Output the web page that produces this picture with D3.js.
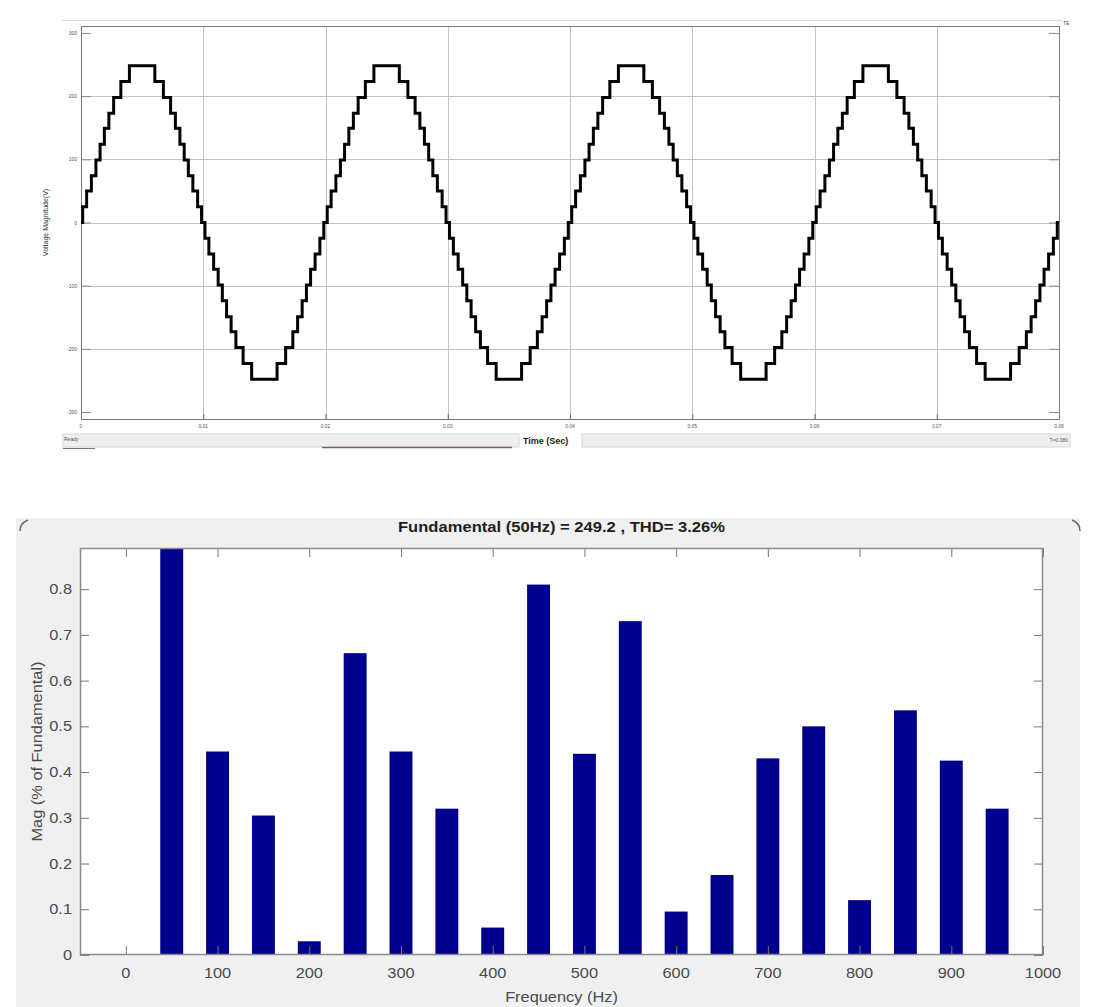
<!DOCTYPE html>
<head>
  <meta charset="utf-8">
  <title>Staircase voltage and FFT</title>
  <style>
  body { margin: 0; background: #fff; }
  svg { display: block; font-family: "Liberation Sans", Arial, sans-serif; }
  .tiny { font-size: 5px; fill: #555; }
  .grid line { stroke: #c4c4c4; stroke-width: 1; }
  .mtick { font-size: 14px; fill: #4a4a4a; }
  </style>
</head>

<svg id="chart" width="1093" height="1007"></svg>

<script src="https://cdn.jsdelivr.net/npm/d3@7"></script>

<script>
"use strict";

// --- top plot: staircase output voltage ---
var timeTicks = [0, 0.01, 0.02, 0.03, 0.04, 0.05, 0.06, 0.07, 0.08];
var voltTicks = [-300, -200, -100, 0, 100, 200, 300];
var voltGrid = [-200, -100, 0, 100, 200];
// switching instants (ms) of the rising edges in the first quarter cycle
var stepTimesMs = [0.14, 0.46, 0.85, 1.22, 1.56, 1.91, 2.28, 2.67, 3.26, 3.96];
// voltage level reached at each step (V)
var stepLevels = [25, 50, 74, 99, 124, 149, 173, 198, 223, 248];
var periodMs = 20, cycles = 4;

// --- bottom plot: harmonic spectrum ---
var harmonicFreqs = [50, 100, 150, 200, 250, 300, 350, 400, 450, 500,
                     550, 600, 650, 700, 750, 800, 850, 900, 950];
var harmonicMags = [100, 0.445, 0.305, 0.03, 0.66, 0.445, 0.32, 0.06, 0.81, 0.44,
                    0.73, 0.095, 0.175, 0.43, 0.50, 0.12, 0.535, 0.425, 0.32];
var freqTicks = [0, 100, 200, 300, 400, 500, 600, 700, 800, 900, 1000];
var magTicks = [0, 0.1, 0.2, 0.3, 0.4, 0.5, 0.6, 0.7, 0.8];

var svg = d3.select("#chart");
var stretch = 1.17; // the screenshot text is a little wider than Arial

/* ================= top plot ================= */
var box1 = {left: 81, right: 1059, top: 26, bottom: 419};

var x1 = d3.scaleLinear().domain([0, 0.08]).range([box1.left, box1.right]);
var y1 = d3.scaleLinear().domain([-311, 311]).range([box1.bottom, box1.top]);

// build one period from the read steps, then repeat it
var wave = [];
for (var c = 0; c < cycles; c++) {
  var off = c * periodMs;
  wave.push([off, 0]);
  stepTimesMs.forEach(function(t, i) { wave.push([off + t, stepLevels[i]]); });
  for (var i = stepTimesMs.length - 1; i >= 0; i--)
    wave.push([off + periodMs / 2 - stepTimesMs[i], i > 0 ? stepLevels[i - 1] : 0]);
  stepTimesMs.forEach(function(t, i) { wave.push([off + periodMs / 2 + t, -stepLevels[i]]); });
  for (var j = stepTimesMs.length - 1; j >= 0; j--)
    wave.push([off + periodMs - stepTimesMs[j], j > 0 ? -stepLevels[j - 1] : 0]);
}
wave.push([cycles * periodMs, 0]);

// outer frame line
svg.append("line")
    .attr("x1", 62).attr("x2", 1062).attr("y1", 20.5).attr("y2", 20.5)
    .attr("stroke", "#d6d6d6");

svg.append("text").attr("class", "tiny")
    .attr("x", 1063).attr("y", 25).attr("fill", "#333").text("TE");

// grid
var g1 = svg.append("g");
g1.append("g").attr("class", "grid")
  .selectAll("line").data(timeTicks.slice(1, -1)).enter().append("line")
    .attr("x1", function(d) { return Math.round(x1(d)) + 0.5; })
    .attr("x2", function(d) { return Math.round(x1(d)) + 0.5; })
    .attr("y1", box1.top).attr("y2", box1.bottom);
g1.append("g").attr("class", "grid")
  .selectAll("line").data(voltGrid).enter().append("line")
    .attr("y1", function(d) { return Math.round(y1(d)) + 0.5; })
    .attr("y2", function(d) { return Math.round(y1(d)) + 0.5; })
    .attr("x1", box1.left).attr("x2", box1.right);

// axes (ticks inside, tiny labels)
g1.append("g")
    .attr("transform", "translate(" + box1.left + ",0)")
    .call(d3.axisRight(y1).tickValues(voltTicks).tickSize(10).tickFormat(""))
    .call(function(g) { g.select(".domain").remove(); g.selectAll("line").attr("stroke", "#8a8a8a"); });
g1.append("g")
    .attr("transform", "translate(" + box1.right + ",0)")
    .call(d3.axisLeft(y1).tickValues(voltTicks).tickSize(10).tickFormat(""))
    .call(function(g) { g.select(".domain").remove(); g.selectAll("line").attr("stroke", "#8a8a8a"); });
g1.append("g")
    .attr("transform", "translate(0," + box1.bottom + ")")
    .call(d3.axisTop(x1).tickValues(timeTicks).tickSize(5).tickFormat(""))
    .call(function(g) { g.select(".domain").remove(); g.selectAll("line").attr("stroke", "#666"); });

g1.selectAll(".ylab").data(voltTicks).enter().append("text")
    .attr("class", "tiny").attr("text-anchor", "end")
    .attr("x", box1.left - 4).attr("y", function(d) { return y1(d) + 2; })
    .text(function(d) { return d; });
g1.selectAll(".xlab").data(timeTicks).enter().append("text")
    .attr("class", "tiny").attr("text-anchor", "middle")
    .attr("x", function(d) { return x1(d); }).attr("y", box1.bottom + 9)
    .text(function(d) { return d === 0 ? "0" : d3.format(".2f")(d); });

g1.append("rect")
    .attr("x", box1.left + 0.5).attr("y", box1.top + 0.5)
    .attr("width", box1.right - box1.left).attr("height", box1.bottom - box1.top)
    .attr("fill", "none").attr("stroke", "#7a7a7a");

g1.append("text")
    .attr("transform", "translate(48," + y1(0) + ") rotate(-90)")
    .attr("text-anchor", "middle").attr("font-size", 7).attr("fill", "#333")
    .text("Voltage Magnitude(V)");

// waveform
var line1 = d3.line()
    .x(function(d) { return x1(d[0] / 1000); })
    .y(function(d) { return y1(d[1]); })
    .curve(d3.curveStepAfter);
g1.append("path")
    .datum(wave)
    .attr("fill", "none").attr("stroke", "#000").attr("stroke-width", 3)
    .attr("stroke-linejoin", "miter")
    .attr("d", line1);

// status bar
var sb = svg.append("g");
sb.append("rect").attr("x", 63).attr("y", 434).attr("width", 456).attr("height", 13)
    .attr("fill", "#efefef").attr("stroke", "#d8d8d8");
sb.append("rect").attr("x", 582).attr("y", 434).attr("width", 488).attr("height", 13)
    .attr("fill", "#efefef").attr("stroke", "#d8d8d8");
sb.append("line").attr("x1", 63).attr("x2", 95).attr("y1", 448.5).attr("y2", 448.5)
    .attr("stroke", "#777");
sb.append("line").attr("x1", 322).attr("x2", 512).attr("y1", 447.5).attr("y2", 447.5)
    .attr("stroke", "#8a5a5a").attr("stroke-width", 1.5);
sb.append("text").attr("class", "tiny").attr("x", 64).attr("y", 441).attr("fill", "#444").text("Ready");
sb.append("text").attr("x", 523).attr("y", 444).attr("font-size", 9).attr("font-weight", "bold")
    .attr("fill", "#222").text("Time (Sec)");
sb.append("text").attr("class", "tiny").attr("x", 1068).attr("y", 442).attr("text-anchor", "end")
    .text("T=0.080");

/* ================= bottom plot ================= */
var box2 = {left: 80, right: 1043, top: 548, bottom: 955};

svg.append("rect")
    .attr("x", 16).attr("y", 518).attr("width", 1064).attr("height", 489)
    .attr("fill", "#f0f0f0");

// resize corner marks
[[20, 523, "M0,8 Q0,0 8,-3"], [1080, 523, "M0,8 Q0,0 -8,-3"]].forEach(function(m) {
  svg.append("path").attr("transform", "translate(" + m[0] + "," + m[1] + ")")
      .attr("d", m[2]).attr("fill", "none").attr("stroke", "#666").attr("stroke-width", 1.5);
});

var x2 = d3.scaleLinear().domain([-50, 1000]).range([box2.left, box2.right]);
var y2 = d3.scaleLinear().domain([0, 0.89]).range([box2.bottom, box2.top]);

var g2 = svg.append("g");
g2.append("rect")
    .attr("x", box2.left).attr("y", box2.top)
    .attr("width", box2.right - box2.left).attr("height", box2.bottom - box2.top)
    .attr("fill", "#fff");

svg.append("clipPath").attr("id", "clip")
  .append("rect")
    .attr("x", box2.left).attr("y", box2.top)
    .attr("width", box2.right - box2.left).attr("height", box2.bottom - box2.top);

var barW = x2(25) - x2(0);
g2.append("g").attr("clip-path", "url(#clip)")
  .selectAll("rect").data(harmonicFreqs).enter().append("rect")
    .attr("x", function(d) { return x2(d) - barW / 2; })
    .attr("width", barW)
    .attr("y", function(d, i) { return y2(harmonicMags[i]); })
    .attr("height", function(d, i) { return box2.bottom - y2(harmonicMags[i]); })
    .attr("fill", "#00008c");

function tickStyle(g) {
  g.select(".domain").remove();
  g.selectAll("line").attr("stroke", "#777");
}
g2.append("g").attr("transform", "translate(0," + box2.bottom + ")")
    .call(d3.axisTop(x2).tickValues(freqTicks).tickSize(9).tickFormat("")).call(tickStyle);
g2.append("g").attr("transform", "translate(0," + box2.top + ")")
    .call(d3.axisBottom(x2).tickValues(freqTicks).tickSize(9).tickFormat("")).call(tickStyle);
g2.append("g").attr("transform", "translate(" + box2.left + ",0)")
    .call(d3.axisRight(y2).tickValues(magTicks).tickSize(9).tickFormat("")).call(tickStyle);
g2.append("g").attr("transform", "translate(" + box2.right + ",0)")
    .call(d3.axisLeft(y2).tickValues(magTicks).tickSize(9).tickFormat("")).call(tickStyle);

g2.append("rect")
    .attr("x", box2.left + 0.5).attr("y", box2.top + 0.5)
    .attr("width", box2.right - box2.left - 1).attr("height", box2.bottom - box2.top - 1)
    .attr("fill", "none").attr("stroke", "#8a8a8a").attr("stroke-width", 1.5);

g2.selectAll(".ml").data(magTicks).enter().append("text")
    .attr("class", "mtick").attr("text-anchor", "end")
    .attr("transform", function(d) {
      return "translate(" + (box2.left - 8) + "," + (y2(d) + 5) + ") scale(" + stretch + ",1)";
    })
    .text(function(d) { return d === 0 ? "0" : d3.format(".1f")(d); });
g2.selectAll(".fl").data(freqTicks).enter().append("text")
    .attr("class", "mtick").attr("text-anchor", "middle")
    .attr("transform", function(d) {
      return "translate(" + x2(d) + "," + (box2.bottom + 23) + ") scale(" + stretch + ",1)";
    })
    .text(function(d) { return d; });

g2.append("text")
    .attr("transform", "translate(" + (box2.left + box2.right) / 2 + "," + (box2.bottom + 47) +
          ") scale(" + stretch + ",1)")
    .attr("text-anchor", "middle").attr("font-size", 14).attr("fill", "#4a4a4a")
    .text("Frequency (Hz)");
g2.append("text")
    .attr("transform", "translate(42," + (box2.top + box2.bottom) / 2 + ") rotate(-90) scale(" +
          stretch + ",1)")
    .attr("text-anchor", "middle").attr("font-size", 14).attr("fill", "#4a4a4a")
    .text("Mag (% of Fundamental)");
g2.append("text")
    .attr("x", (box2.left + box2.right) / 2).attr("y", 532)
    .attr("text-anchor", "middle").attr("font-size", 14).attr("font-weight", "bold")
    .attr("fill", "#1e1e1e")
    .attr("textLength", 327).attr("lengthAdjust", "spacingAndGlyphs")
    .text("Fundamental (50Hz) = 249.2 , THD= 3.26%");
</script>
